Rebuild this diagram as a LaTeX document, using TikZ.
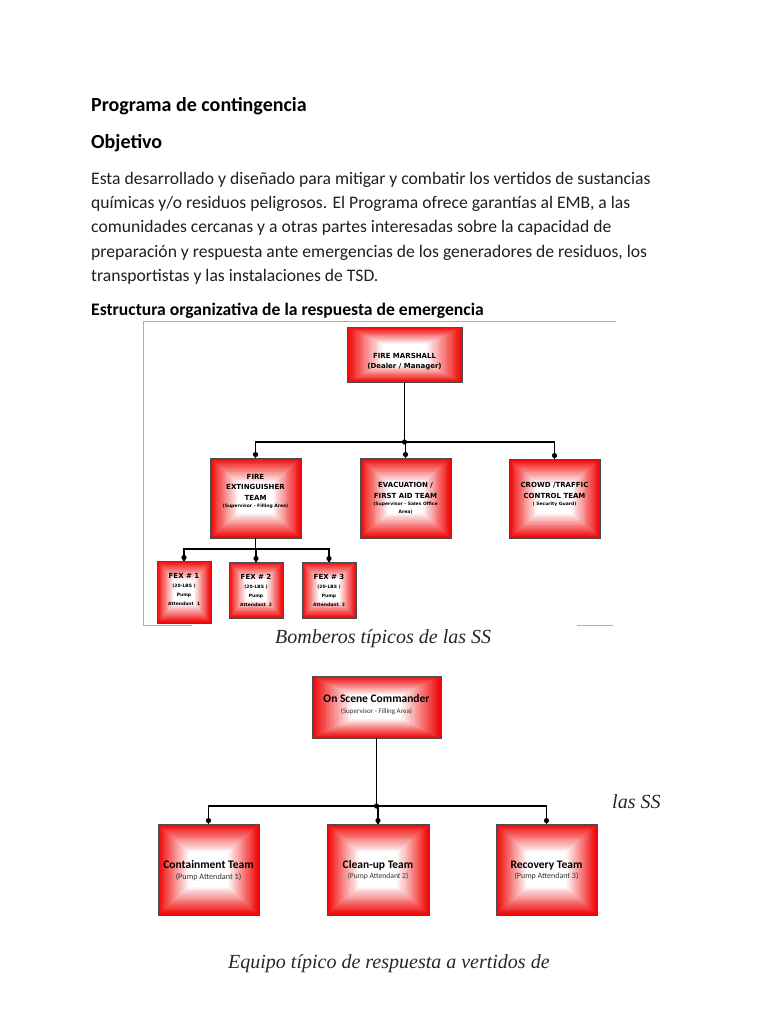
\documentclass[tikz,border=0pt]{standalone}
\usepackage{fontspec}
\usetikzlibrary{calc}
\setmainfont{Carlito}
\newfontfamily\dvs{DejaVu Sans}
\newfontfamily\capfont{Liberation Serif}
\definecolor{gR}{RGB}{240,12,12}
\definecolor{frameg}{RGB}{175,175,175}
\tikzset{
  glow/.style={rectangle, inner sep=1pt, draw=black!70, line width=0.9pt, fill=gR, align=center, text=black,
    path picture={
      \foreach \i in {0,...,50}{
        \pgfmathsetmacro\gt{1-\i/50}
        \pgfmathsetmacro\gp{max(0,min(100,(\gt-0.38)/0.6*100))}
        \fill[gR!\gp!white]
          ($(path picture bounding box.center)!\gt!(path picture bounding box.north west)$) rectangle
          ($(path picture bounding box.center)!\gt!(path picture bounding box.south east)$);
      }
    }},
  boxA/.style={glow, font=\dvs\bfseries\fontsize{7}{10.5}\selectfont},
  boxF/.style={glow, font=\dvs\bfseries\fontsize{7}{9}\selectfont},
  boxB/.style={glow, font=\bfseries\fontsize{11.5}{11}\selectfont},
  con/.style={line width=1.7pt, black},
  bodytxt/.style={anchor=base west, inner sep=0pt, font=\fontsize{17.6}{24}\selectfont, text=black!88},
  headtxt/.style={anchor=base west, inner sep=0pt, font=\bfseries\fontsize{20}{24}\selectfont},
  captxt/.style={anchor=base west, inner sep=0pt, font=\capfont\itshape\fontsize{20}{24}\selectfont, text=black!85},
}
\newcommand{\subA}[1]{{\fontsize{4.5}{10.5}\selectfont #1}}
\newcommand{\subF}[1]{{\fontsize{4.5}{9}\selectfont #1}}
\newcommand{\subB}[2]{{\fontsize{#1}{11}\selectfont\mdseries\color{black!80}#2}}
\begin{document}
\begin{tikzpicture}[x=1pt, y=-1pt]
\useasboundingbox[fill=white] (0,0) rectangle (768,1024);

% ---- text ----
\node[headtxt] (title) at (91,112) {Programa de contingencia};
\node[headtxt] (obj) at (91,149) {Objetivo};
\node[bodytxt] (l1) at (91,185) {Esta desarrollado y diseñado para mitigar y combatir los vertidos de sustancias};
\node[bodytxt] (l2) at (91,209) {químicas y/o residuos peligrosos. El Programa ofrece garantías al EMB, a las};
\node[bodytxt] (l3) at (91,233) {comunidades cercanas y a otras partes interesadas sobre la capacidad de};
\node[bodytxt] (l4) at (91,257) {preparación y respuesta ante emergencias de los generadores de residuos, los};
\node[bodytxt] (l5) at (91,281) {transportistas y las instalaciones de TSD.};
\node[anchor=base west, inner sep=0pt, font=\bfseries\fontsize{17.6}{20}\selectfont] (est) at (91,315) {Estructura organizativa de la respuesta de emergencia};

% ---- frame of first chart ----
\draw[frameg, line width=1pt] (192,625) -- (143,625) -- (143,321) -- (616,321);
\draw[frameg, line width=1pt] (577,625) -- (613,625);

% ---- first chart ----
\node[boxA, minimum width=115, minimum height=55] (fm) at (404.5,354.5)
  {~\\[9pt]FIRE MARSHALL\\(Dealer / Manager)};
\node[boxA, minimum width=91, minimum height=80] (fet) at (255.5,498)
  {FIRE\\EXTINGUISHER\\TEAM\\[-3pt]\subA{(Supervisor - Filling Area)}\\[4pt]~};
\node[boxA, minimum width=91, minimum height=80] (evac) at (405.5,498)
  {EVACUATION /\\FIRST AID TEAM\\[-3pt]\subA{(Supervisor - Sales Office}\\[-3pt]\subA{Area)}};
\node[boxA, minimum width=91, minimum height=79] (crowd) at (554.5,498.5)
  {CROWD /TRAFFIC\\CONTROL TEAM\\[-3pt]\subA{( Security Guard)}\\[-2pt]~};
\node[boxF, minimum width=54, minimum height=62] (fex1) at (184,592)
  {FEX \# 1\\\subF{(20-LBS )}\\\subF{Pump}\\\subF{Attendant\ \ 1}\\[-3pt]~};
\node[boxF, minimum width=54, minimum height=56] (fex2) at (256,590)
  {FEX \# 2\\\subF{(20-LBS )}\\\subF{Pump}\\\subF{Attendant\ \ 2}};
\node[boxF, minimum width=54, minimum height=56] (fex3) at (329,590)
  {FEX \# 3\\\subF{(20-LBS )}\\\subF{Pump}\\\subF{Attendant\ \ 3}};

\coordinate (bus1) at (404.5,442);
\coordinate (bus2) at (255.5,549);
\draw[con] (fm.south) -- (bus1);
\draw[con] (bus1) -| (fet.north);
\draw[con] (bus1) -| (crowd.north);
\draw[con] (bus1) -- (bus1 -| evac.north) -- (evac.north);
\draw[con] (fet.south) -- (bus2);
\draw[con] (bus2) -| (fex1.north);
\draw[con] (bus2) -| (fex3.north);
\draw[con] (bus2) -- (bus2 -| fex2.north) -- (fex2.north);
\foreach \n in {fet,evac,crowd,fex1,fex2,fex3}{\fill ([yshift=3pt]\n.north) circle (2.6pt);}
\fill (bus1) circle (2.6pt);

\node[captxt] (cap1) at (275,643) {Bomberos típicos de las SS};

% ---- second chart ----
\node[boxB, minimum width=129, minimum height=62] (osc) at (376.5,707)
  {On Scene Commander\\\subB{7}{(Supervisor - Filling Area)}\\[-4pt]~};
\node[boxB, minimum width=101, minimum height=91] (cont) at (208.5,869.5)
  {~\\[-1pt]Containment Team\\\subB{8.2}{(Pump Attendant 1)}};
\node[boxB, minimum width=102, minimum height=91] (clean) at (378,869.5)
  {~\\[-2pt]Clean-up Team\\[-1pt]\subB{7.6}{(Pump Attendant 2)}};
\node[boxB, minimum width=101, minimum height=91] (rec) at (546.5,869.5)
  {~\\[-2pt]Recovery Team\\[-1pt]\subB{8}{(Pump Attendant 3)}};

\coordinate (bus3) at (376.5,806);
\draw[con] (osc.south) -- (bus3);
\draw[con] (bus3) -| (cont.north);
\draw[con] (bus3) -| (rec.north);
\draw[con] (bus3) -- (bus3 -| clean.north) -- (clean.north);
\foreach \n in {cont,clean,rec}{\fill ([yshift=3pt]\n.north) circle (2.6pt);}
\fill (bus3) circle (2.6pt);

\node[captxt] (cap2) at (612,808) {las SS};
\node[captxt] (cap3) at (228,968) {Equipo típico de respuesta a vertidos de};
\end{tikzpicture}
\end{document}
